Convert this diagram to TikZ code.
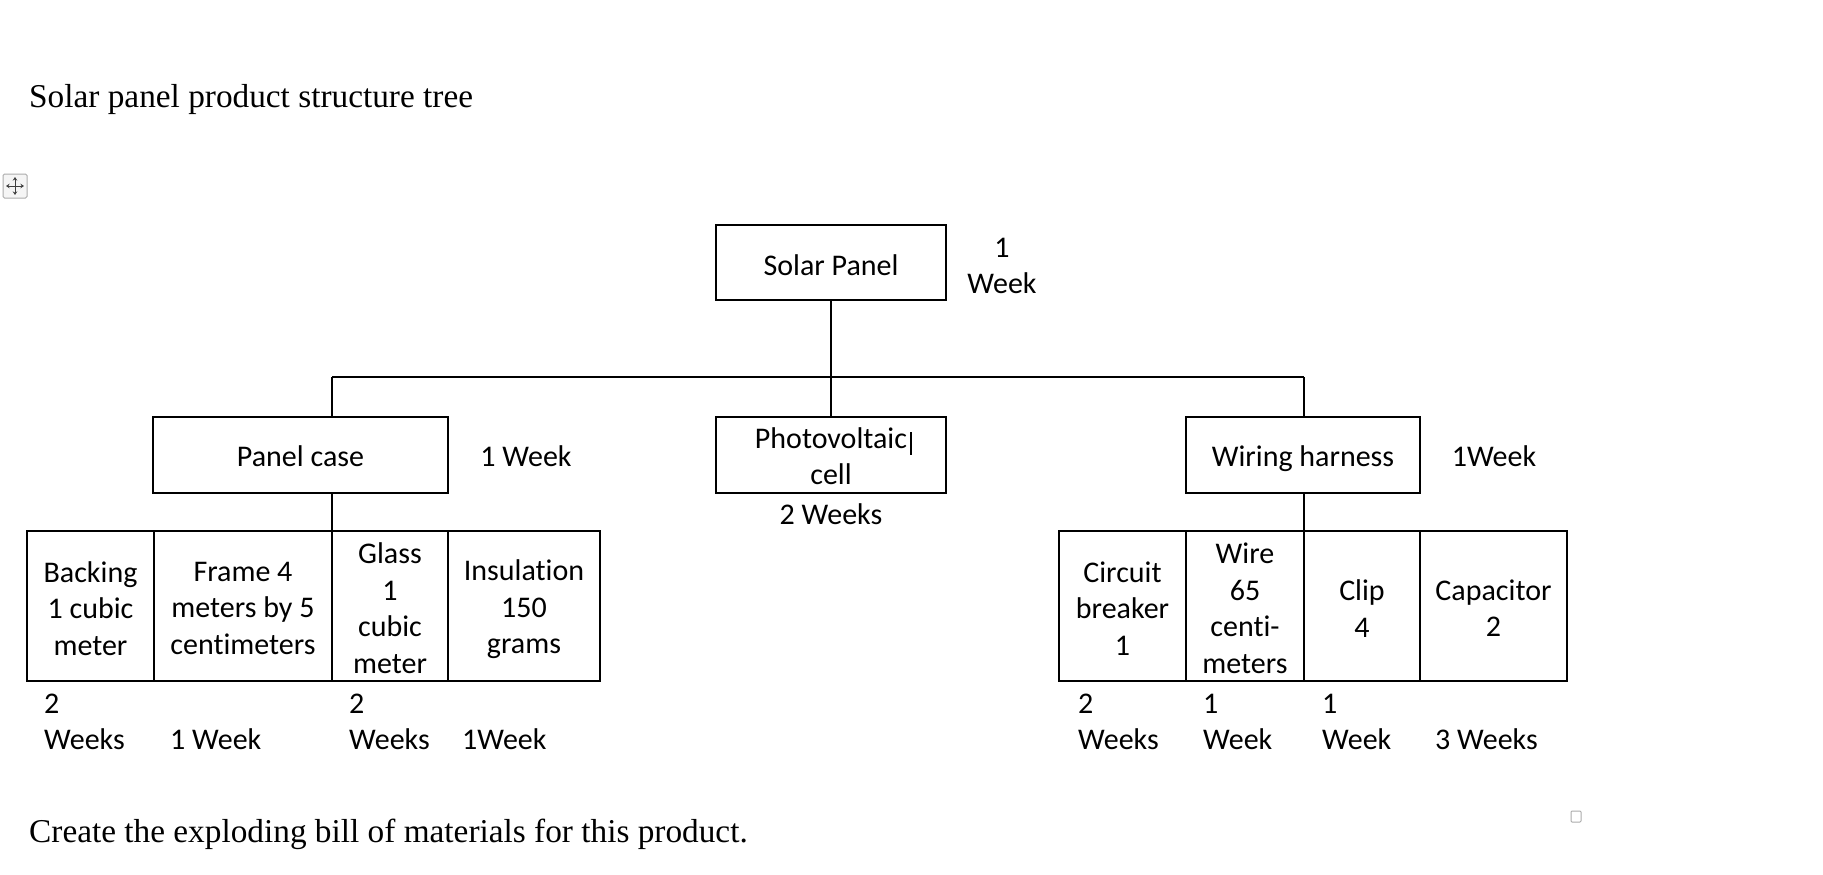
\documentclass[tikz,border=0pt]{standalone}
\usepackage{fontspec}
\setmainfont{Carlito}[Ligatures=NoCommon]
\newfontfamily\serifface{Liberation Serif}
\usetikzlibrary{arrows.meta}
\newcommand\cfont{\fontsize{30}{36.6}\selectfont}
\tikzset{
  frame/.style={draw, line width=1.6pt, inner sep=0pt, outer sep=0pt},
  btext/.style={inner sep=0pt, align=center, font=\cfont},
  lbl/.style={anchor=base west, inner sep=0pt, font=\cfont},
  clbl/.style={anchor=base, inner sep=0pt, font=\cfont},
  conn/.style={line width=1.6pt},
  doc/.style={anchor=base west, inner sep=0pt, font=\serifface\fontsize{33.3}{40}\selectfont},
  ui/.style={draw=gray!65, line width=1pt, rounded corners=1.5pt},
  mv/.style={line width=1pt, draw=black!75, -{Stealth[length=3.5pt,width=4.5pt]}}
}
\begin{document}
\begin{tikzpicture}[x=1pt, y=-1pt]
\useasboundingbox[fill=white] (0,0) rectangle (1823,875);

% document text
\node[doc] (title) at (29,107) {Solar panel product structure tree};
\node[doc] (task) at (29,842) {Create the exploding bill of materials for this product.};

% move handle and small square
\draw[ui, fill=gray!8] (3,174) rectangle (27,198);
\coordinate (mh) at (15,186);
\draw[mv] (mh) -- ++(0,-9);
\draw[mv] (mh) -- ++(0,9);
\draw[mv] (mh) -- ++(-9,0);
\draw[mv] (mh) -- ++(9,0);
\draw[ui, rounded corners=1pt] (1571,811) rectangle (1581,822);

% level 0
\node[frame, minimum width=230pt, minimum height=75pt] (sp) at (831,262.5) {};
\node[btext] (spx) at ([yshift=-2.3pt]sp.center) {Solar Panel};
\node[clbl] (spt1) at (1002,257) {1};
\node[clbl] (spt2) at (1002,293) {Week};

% level 1
\node[frame, minimum width=295pt, minimum height=76pt] (pc) at (300.5,455) {};
\node[btext] (pcx) at ([yshift=-1.2pt]pc.center) {Panel case};
\node[clbl] (pct) at (526,466) {1 Week};
\node[frame, minimum width=230pt, minimum height=76pt] (pv) at (831,455) {};
\node[btext] (pvx) at ([yshift=-1.2pt]pv.center) {Photovoltaic\\cell};
\draw[line width=1.2pt] (911,432) -- (911,455);
\node[clbl] (pvt) at (831,524) {2 Weeks};
\node[frame, minimum width=234pt, minimum height=76pt] (wh) at (1303,455) {};
\node[btext] (whx) at ([yshift=-3.5pt]wh.center) {Wiring harness};
\node[clbl] (wht) at (1494,466) {1Week};

% level 2 left
\node[frame, minimum width=127pt, minimum height=150pt] (bk) at (90.5,606) {};
\node[btext] (bkx) at ([yshift=-2.3pt]bk.center) {Backing\\1 cubic\\meter};
\node[frame, minimum width=178pt, minimum height=150pt] (fr) at (243,606) {};
\node[btext] (frx) at ([yshift=-2.3pt]fr.center) {Frame 4\\meters by 5\\centimeters};
\node[frame, minimum width=116pt, minimum height=150pt] (gl) at (390,606) {};
\node[btext] (glx) at ([yshift=-2.3pt]gl.center) {Glass\\1\\cubic\\meter};
\node[frame, minimum width=152pt, minimum height=150pt] (in) at (524,606) {};
\node[btext] (inx) at ([yshift=-3.5pt]in.center) {Insulation\\150\\grams};

% level 2 right
\node[frame, minimum width=127pt, minimum height=150pt] (cb) at (1122.5,606) {};
\node[btext] (cbx) at ([yshift=-2.3pt]cb.center) {Circuit\\breaker\\1};
\node[frame, minimum width=118pt, minimum height=150pt] (wi) at (1245,606) {};
\node[btext] (wix) at ([yshift=-2.3pt]wi.center) {Wire\\65\\centi-\\meters};
\node[frame, minimum width=116pt, minimum height=150pt] (cl) at (1362,606) {};
\node[btext] (clx) at ([yshift=-2.3pt]cl.center) {Clip\\4};
\node[frame, minimum width=147pt, minimum height=150pt] (ca) at (1493.5,606) {};
\node[btext] (cax) at ([yshift=-2.3pt]ca.center) {Capacitor\\2};

% lead times below level 2
\node[lbl] (bkt1) at (44,713) {2};
\node[lbl] (bkt2) at (44,749) {Weeks};
\node[lbl] (frt) at (170,749) {1 Week};
\node[lbl] (glt1) at (349,713) {2};
\node[lbl] (glt2) at (349,749) {Weeks};
\node[lbl] (int) at (462,749) {1Week};
\node[lbl] (cbt1) at (1078,713) {2};
\node[lbl] (cbt2) at (1078,749) {Weeks};
\node[lbl] (wit1) at (1203,713) {1};
\node[lbl] (wit2) at (1203,749) {Week};
\node[lbl] (clt1) at (1322,713) {1};
\node[lbl] (clt2) at (1322,749) {Week};
\node[lbl] (cat) at (1435,749) {3 Weeks};

% connectors
\coordinate (jl) at (332,377);
\coordinate (jr) at (1304,377);
\draw[conn] (sp.south) -- (pv.north);
\draw[conn] (jl) -- (jr);
\draw[conn] (jl) -- (jl |- pc.north);
\draw[conn] (jr) -- (jr |- wh.north);
\draw[conn] (jl |- pc.south) -- (gl.north west);
\draw[conn] (jr |- wh.south) -- (cl.north west);
\end{tikzpicture}
\end{document}
